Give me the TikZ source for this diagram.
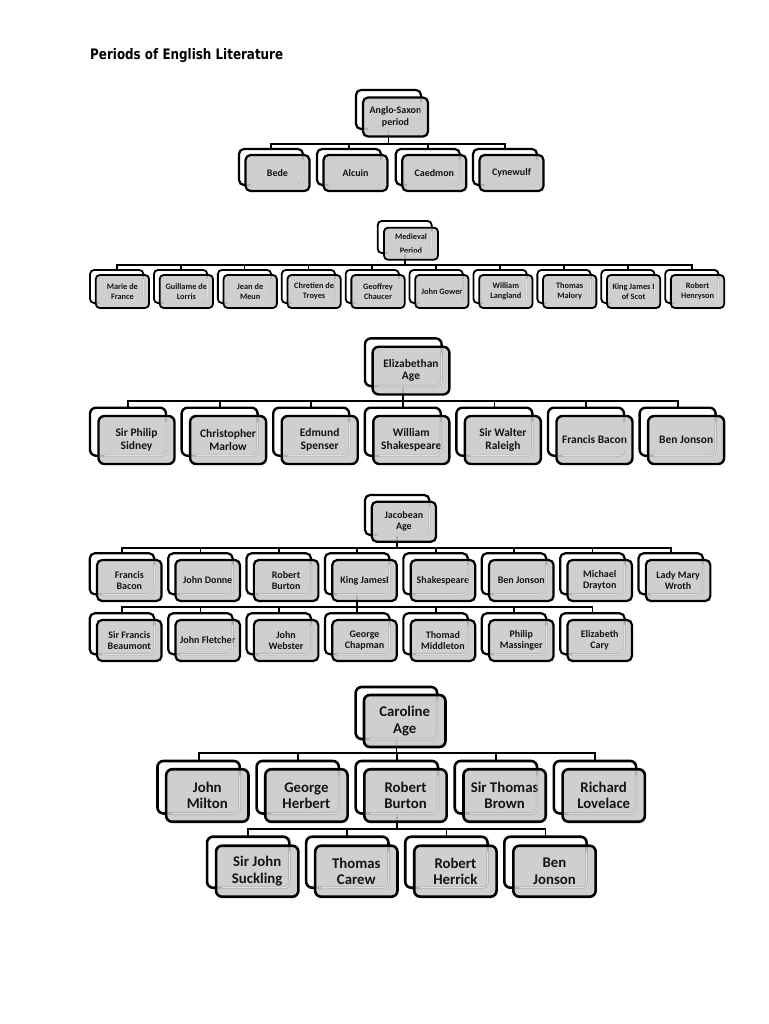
\documentclass[tikz,border=0pt]{standalone}
\usepackage{fontspec}
\setmainfont{Carlito}
\newfontfamily\titlefont{DejaVu Sans}
\usetikzlibrary{calc}
\pgfdeclarelayer{bg}
\pgfsetlayers{bg,main}
\tikzset{
  back/.style={draw=black, fill=white, inner sep=0pt, outer sep=0pt},
  front/.style={draw=black, fill=black!21, fill opacity=.88, draw opacity=1, text opacity=1, inner sep=0pt, outer sep=0pt, align=center, text=black!92},
  bev/.style={draw=white, draw opacity=.6, line width=1.1pt},
  conn/.style={draw=black, line width=1.8pt},
}
% #1 w, #2 h, #3 dx, #4 dy, #5 line width, #6 corner radius, #7 font size, #8 baselineskip
\newcommand\bxd[8]{%
  \tikzset{bk/.style={back, minimum width=#1pt, minimum height=#2pt, line width=#5pt, rounded corners=#6pt},
           fr/.style={front, minimum width=#1pt, minimum height=#2pt, line width=#5pt, rounded corners=#6pt, font=\bfseries\fontsize{#7pt}{#8pt}\selectfont}}%
  \def\dx{#3}\def\dy{#4}\def\rr{#6}}
\newcommand\duo[4]{%
  \node[bk] (#1) at (#2,#3) {};
  \node[fr] (#1f) at ([shift={(\dx,\dy)}]#1.center) {#4};
  \draw[bev, rounded corners=\rr pt] ($(#1f.west |- #1.south)+(\rr,0)$) -- (#1.south east) -- ($(#1.east |- #1f.north)+(0,\rr)$);
}
\newcommand\link[3]{\draw[conn] (#1.center) -- (#1.center |- #2) -| (#3.north);}
\begin{document}
\begin{tikzpicture}[x=1pt,y=-1pt]
\useasboundingbox (0,0) rectangle (768,1024);
\begin{pgfonlayer}{bg}
\fill[white] (0,0) rectangle (768,1024);
\end{pgfonlayer}

\node[anchor=base west, inner sep=0pt] (title) at (90,60) {\resizebox{193pt}{11pt}{\titlefont\bfseries Periods of English Literature}};

% ---------- Anglo-Saxon ----------
\bxd{65}{39}{7}{7.5}{2.2}{5}{10}{11.7}
\duo{as}{388.5}{109.5}{Anglo-Saxon\\period}
\bxd{64}{36}{6.5}{6}{2.2}{5}{10}{11.7}
\duo{bede}{271}{167}{Bede}
\duo{alcuin}{349}{167}{Alcuin}
\duo{caedmon}{427.8}{167}{Caedmon}
\duo{cynewulf}{505}{167}{Cynewulf}
\coordinate (asbus) at (0,144.3);

% ---------- Medieval ----------
\bxd{54}{32}{6.3}{6.7}{1.8}{4}{8.3}{13.5}
\duo{med}{404.7}{237}{Medieval\\Period}
\bxd{53.3}{33}{5.7}{5}{1.8}{4}{8.3}{10}
\duo{marie}{116.7}{286.5}{Marie de\\France}
\duo{guil}{180.6}{286.5}{Guillame de\\Lorris}
\duo{jean}{244.5}{286.5}{Jean de\\Meun}
\duo{chre}{308.4}{286.5}{Chretien de\\Troyes}
\duo{geof}{372.3}{286.5}{Geoffrey\\Chaucer}
\duo{gower}{436.2}{286.5}{John Gower}
\duo{lang}{500.1}{286.5}{William\\Langland}
\duo{malory}{564.0}{286.5}{Thomas\\Malory}
\duo{kjs}{627.9}{286.5}{King James I\\of Scot}
\duo{henr}{691.8}{286.5}{Robert\\Henryson}
\coordinate (medbus) at (0,265);

% ---------- Elizabethan ----------
\bxd{76.7}{47.7}{7.7}{8.4}{2.4}{6}{11.5}{12.6}
\duo{eliz}{403.3}{362.2}{Elizabethan\\Age}
\bxd{76}{48}{8.5}{8.3}{2.4}{6}{11.5}{12.6}
\duo{sidney}{128}{431.7}{Sir Philip\\Sidney}
\duo{marlow}{219.6}{431.7}{Christopher\\Marlow}
\duo{spenser}{311.2}{431.7}{Edmund\\Spenser}
\duo{shak}{402.8}{431.7}{William\\Shakespeare}
\duo{raleigh}{494.4}{431.7}{Sir Walter\\Raleigh}
\duo{ebacon}{586}{431.7}{Francis Bacon}
\duo{ejonson}{677.6}{431.7}{Ben Jonson}
\coordinate (elbus) at (0,401);

% ---------- Jacobean ----------
\bxd{64.3}{40}{6.7}{6.7}{2.2}{5}{10}{11}
\duo{jac}{397.2}{515}{Jacobean\\Age}
\bxd{64.5}{41}{7.3}{6.7}{2.2}{5}{10}{11}
\duo{jbacon}{122}{573.8}{Francis\\Bacon}
\duo{donne}{200.4}{573.8}{John Donne}
\duo{jburton}{278.8}{573.8}{Robert\\Burton}
\duo{kj}{357.2}{573.8}{King JamesI}
\duo{jshak}{435.6}{573.8}{Shakespeare}
\duo{jjonson}{514}{573.8}{Ben Jonson}
\duo{drayton}{592.4}{573.8}{Michael\\Drayton}
\duo{wroth}{670.8}{573.8}{Lady Mary\\Wroth}
\duo{beaumont}{122}{633.8}{Sir Francis\\Beaumont}
\duo{fletcher}{200.4}{633.8}{John Fletcher}
\duo{webster}{278.8}{633.8}{John\\Webster}
\duo{chapman}{357.2}{633.8}{George\\Chapman}
\duo{middleton}{435.6}{633.8}{Thomad\\Middleton}
\duo{massinger}{514}{633.8}{Philip\\Massinger}
\duo{cary}{592.4}{633.8}{Elizabeth\\Cary}
\coordinate (jacbus) at (0,548.3);
\coordinate (kjbus) at (0,607.3);

% ---------- Caroline ----------
\bxd{81.5}{52}{8.3}{8}{2.6}{6}{14.8}{16.6}
\duo{car}{396.4}{713}{Caroline\\Age}
\bxd{82.3}{52.5}{8.7}{8.3}{2.6}{6}{14.8}{16.6}
\duo{milton}{198.6}{787.2}{John\\Milton}
\duo{herbert}{297.7}{787.2}{George\\Herbert}
\duo{cburton}{396.8}{787.2}{Robert\\Burton}
\duo{brown}{495.9}{787.2}{Sir Thomas\\Brown}
\duo{lovelace}{595}{787.2}{Richard\\Lovelace}
\bxd{82.3}{51}{9}{9}{2.6}{6}{14.8}{16.6}
\duo{suckling}{248.2}{862.2}{Sir John\\Suckling}
\duo{carew}{347.3}{862.2}{Thomas\\Carew}
\duo{herrick}{446.4}{862.2}{Robert\\Herrick}
\duo{cjonson}{545.5}{862.2}{Ben\\Jonson}
\coordinate (carbus) at (0,752.7);
\coordinate (cbbus) at (0,829);

\begin{pgfonlayer}{bg}
\foreach \c in {bede,alcuin,caedmon,cynewulf} {\link{as}{asbus}{\c}}
\foreach \c in {marie,guil,jean,chre,geof,gower,lang,malory,kjs,henr} {\link{med}{medbus}{\c}}
\foreach \c in {sidney,marlow,spenser,shak,raleigh,ebacon,ejonson} {\link{eliz}{elbus}{\c}}
\foreach \c in {jbacon,donne,jburton,kj,jshak,jjonson,drayton,wroth} {\link{jac}{jacbus}{\c}}
\foreach \c in {beaumont,fletcher,webster,chapman,middleton,massinger,cary} {\link{kj}{kjbus}{\c}}
\foreach \c in {milton,herbert,cburton,brown,lovelace} {\link{car}{carbus}{\c}}
\foreach \c in {suckling,carew,herrick,cjonson} {\link{cburton}{cbbus}{\c}}
\end{pgfonlayer}
\end{tikzpicture}
\end{document}
